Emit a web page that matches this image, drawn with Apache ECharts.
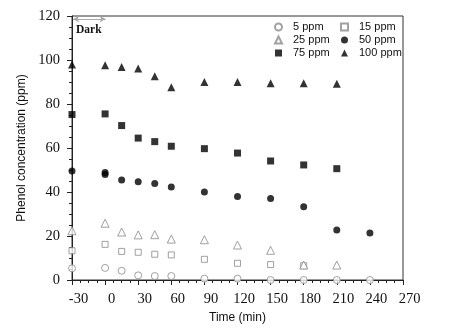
<!DOCTYPE html>
<html>
<head>
<meta charset="utf-8">
<script src="https://cdn.jsdelivr.net/npm/echarts@6/dist/echarts.min.js"></script>
<style>html,body{margin:0;padding:0;background:#fff;}#c{width:474px;height:330px;}</style>
</head>
<body>
<div id="c"></div>
<script>
var times = [-30, 0, 15, 30, 45, 60, 90, 120, 150, 180, 210, 240];
var ppm5 = [5.3, 5.5, 4.2, 2.1, 1.8, 1.8, 0.6, 0.6, 0, 0, 0, 0];
var ppm15 = [13.3, 16.2, 13.0, 12.6, 11.7, 11.4, 9.4, 7.6, 7.0, 6.5, null, null];
var ppm25 = [22.4, 25.8, 21.8, 20.5, 20.6, 18.6, 18.3, 15.9, 13.5, 6.8, 6.8, null];
var times50 = [-30, 0, 0, 15, 30, 45, 60, 90, 120, 150, 180, 210, 240];
var ppm50 = [49.5, 48.9, 48.0, 45.5, 44.7, 43.9, 42.3, 40.0, 38.0, 37.0, 33.3, 22.7, 21.4];
var ppm75 = [75.2, 75.5, 70.2, 64.5, 62.9, 60.8, 59.7, 57.7, 54.1, 52.3, 50.6, null];
var ppm100 = [98.0, 97.6, 96.8, 96.1, 92.6, 87.6, 90.0, 90.0, 89.4, 89.4, 89.2, null];
var xTicks = [-30, 0, 30, 60, 90, 120, 150, 180, 210, 240, 270];
var yTicks = [0, 20, 40, 60, 80, 100, 120];

function pairs(xs, ys) {
  var out = [];
  for (var i = 0; i < xs.length; i++) { if (ys[i] !== null) out.push([xs[i], ys[i]]); }
  return out;
}
var openStyle = { color: '#fff', borderColor: '#8a8a8a', borderWidth: 1 };
var fillStyle = { color: '#000', borderColor: '#000', borderWidth: 0 };
var serif = '"Liberation Serif", "DejaVu Serif", serif';
var sans = '"Liberation Sans", Arial, sans-serif';

var chart = echarts.init(document.getElementById('c'), null, { renderer: 'canvas' });
chart.setOption({
  animation: false,
  backgroundColor: '#fff',
  title: {
    text: 'Dark', left: 76, top: 24, padding: 0,
    textStyle: { fontFamily: serif, fontWeight: 'bold', fontSize: 11.5, color: '#111' }
  },
  grid: { left: 72, right: 71, top: 16, bottom: 50, show: true, borderColor: '#333', borderWidth: 1, backgroundColor: 'transparent' },
  legend: [
    {
      orient: 'vertical', left: 274, top: 21, padding: 0, itemWidth: 7, itemHeight: 7, itemGap: 1,
      textStyle: { fontFamily: sans, fontSize: 11, color: '#111', lineHeight: 12, padding: [0, 0, 0, 6] },
      data: [{ name: '5 ppm', icon: 'circle' }, { name: '25 ppm', icon: 'triangle' }, { name: '75 ppm', icon: 'rect' }]
    },
    {
      orient: 'vertical', left: 340, top: 21, padding: 0, itemWidth: 7, itemHeight: 7, itemGap: 1,
      textStyle: { fontFamily: sans, fontSize: 11, color: '#111', lineHeight: 12, padding: [0, 0, 0, 6] },
      data: [{ name: '15 ppm', icon: 'rect' }, { name: '50 ppm', icon: 'circle' }, { name: '100 ppm', icon: 'triangle' }]
    }
  ],
  xAxis: {
    type: 'value', min: -30, max: 270, interval: 30,
    name: 'Time (min)', nameLocation: 'middle', nameGap: 31,
    nameTextStyle: { fontFamily: sans, fontSize: 12, color: '#111' },
    axisLine: { show: true, onZero: false, lineStyle: { color: '#222', width: 1 } },
    axisTick: { show: true, inside: false, length: 5, lineStyle: { color: '#222' } },
    minorTick: { show: true, splitNumber: 4, length: 3, lineStyle: { color: '#222' } },
    splitLine: { show: false },
    axisLabel: {
      fontFamily: serif, fontSize: 14.5, color: '#111', margin: 12, padding: [0, 0, 0, 13],
      formatter: function (v) { return xTicks.indexOf(v) >= 0 ? String(v) : ''; }
    }
  },
  yAxis: {
    type: 'value', min: 0, max: 120, interval: 20,
    name: 'Phenol concentration (ppm)', nameLocation: 'middle', nameGap: 33,
    nameTextStyle: { fontFamily: sans, fontSize: 12, color: '#111' },
    axisLine: { show: true, onZero: false, lineStyle: { color: '#222', width: 1 } },
    axisTick: { show: true, inside: false, length: 5, lineStyle: { color: '#222' } },
    minorTick: { show: true, splitNumber: 4, length: 3, lineStyle: { color: '#222' } },
    splitLine: { show: false },
    axisLabel: {
      fontFamily: serif, fontSize: 14.5, color: '#111', margin: 12,
      formatter: function (v) { return yTicks.indexOf(v) >= 0 ? String(v) : ''; }
    }
  },
  series: [
    { name: '5 ppm', type: 'scatter', symbol: 'circle', symbolSize: 7, itemStyle: openStyle, data: pairs(times, ppm5), z: 3,
      markLine: {
        silent: true, symbol: ['arrow', 'arrow'], symbolSize: [5, 6],
        lineStyle: { color: '#aaa', width: 1, type: 'solid' }, label: { show: false },
        data: [[{ coord: [-29, 118.6] }, { coord: [0.5, 118.6] }]]
      } },
    { name: '15 ppm', type: 'scatter', symbol: 'rect', symbolSize: 6, itemStyle: openStyle, data: pairs(times, ppm15), z: 3 },
    { name: '25 ppm', type: 'scatter', symbol: 'triangle', symbolSize: 8, itemStyle: openStyle, data: pairs(times, ppm25), z: 3 },
    { name: '50 ppm', type: 'scatter', symbol: 'circle', symbolSize: 7, itemStyle: fillStyle, data: pairs(times50, ppm50), z: 3 },
    { name: '75 ppm', type: 'scatter', symbol: 'rect', symbolSize: 7, itemStyle: fillStyle, data: pairs(times, ppm75), z: 3 },
    { name: '100 ppm', type: 'scatter', symbol: 'triangle', symbolSize: 8, itemStyle: fillStyle, data: pairs(times, ppm100), z: 3 }
  ]
});
</script>
</body>
</html>
